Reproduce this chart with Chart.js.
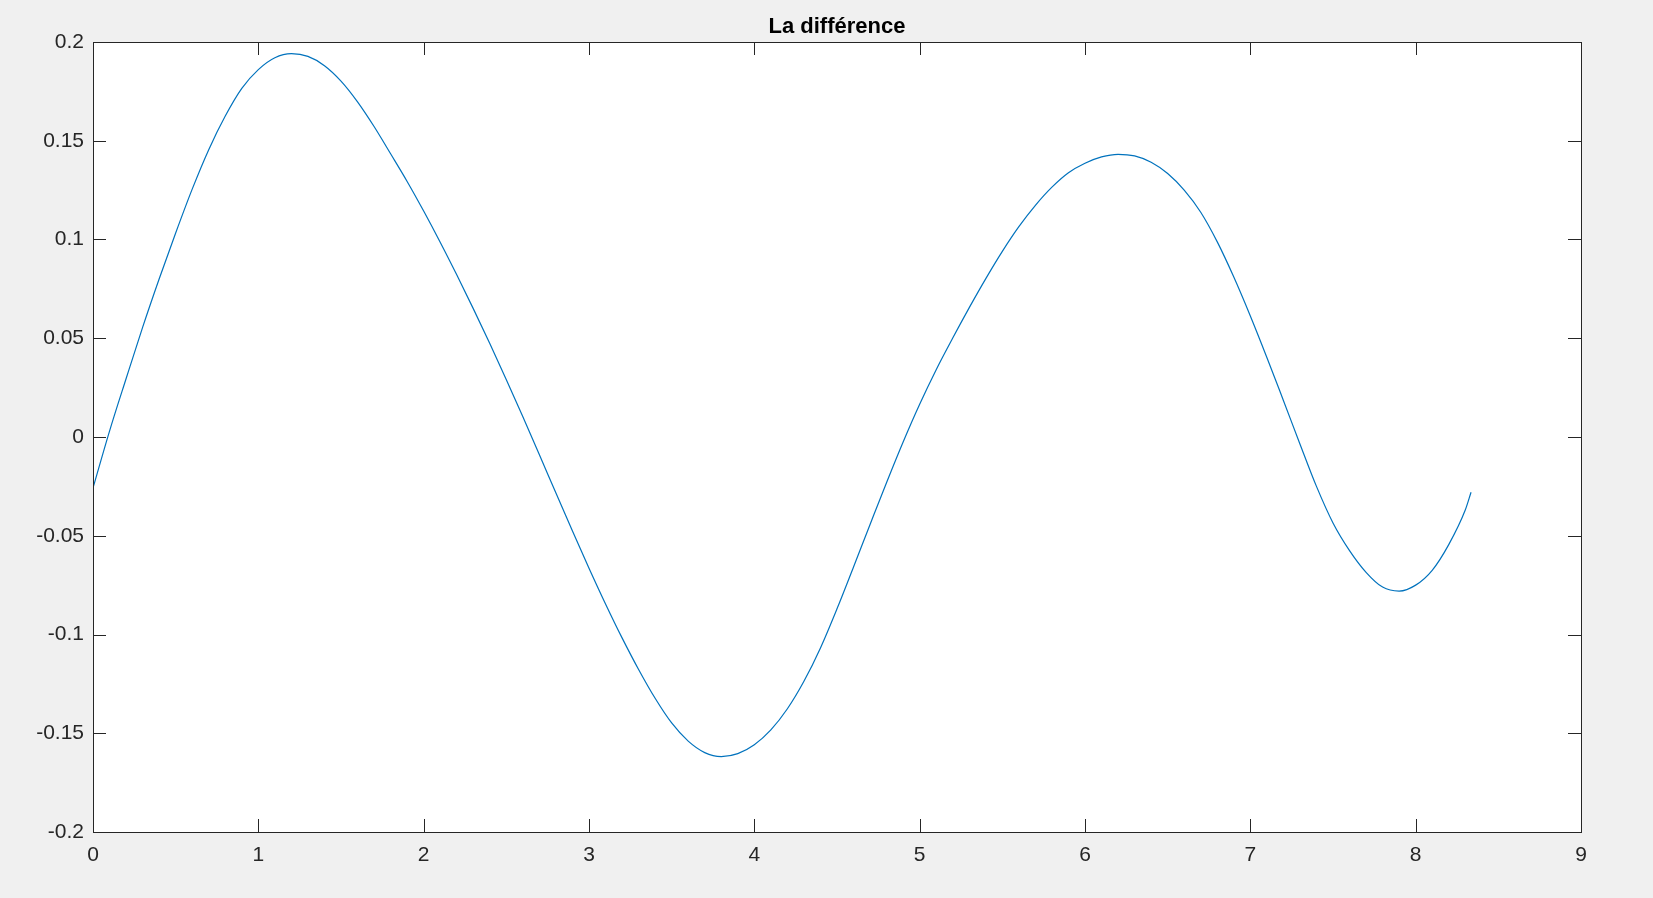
<!DOCTYPE html>
<html>
<head>
<meta charset="utf-8">
<script src="https://cdn.jsdelivr.net/npm/chart.js@4"></script>
<style>
  html, body { margin: 0; padding: 0; background: #f0f0f0; }
  #wrap { width: 1653px; height: 898px; }
</style>
</head>
<body>
<div id="wrap"><canvas id="diffChart" width="1653" height="898"></canvas></div>
<script>
// values, every 0.1 on x
var xs = [0, 0.1, 0.2, 0.3, 0.4, 0.5, 0.6, 0.7, 0.8, 0.9,
          1.0, 1.1, 1.2, 1.3, 1.4, 1.5, 1.6, 1.7, 1.8, 1.9,
          2.0, 2.1, 2.2, 2.3, 2.4, 2.5, 2.6, 2.7, 2.8, 2.9,
          3.0, 3.1, 3.2, 3.3, 3.4, 3.5, 3.6, 3.7, 3.8, 3.9,
          4.0, 4.1, 4.2, 4.3, 4.4, 4.5, 4.6, 4.7, 4.8, 4.9,
          5.0, 5.1, 5.2, 5.3, 5.4, 5.5, 5.6, 5.7, 5.8, 5.9,
          6.0, 6.1, 6.2, 6.3, 6.4, 6.5, 6.6, 6.7, 6.8, 6.9,
          7.0, 7.1, 7.2, 7.3, 7.4, 7.5, 7.6, 7.7, 7.8, 7.9,
          8.0, 8.1, 8.2, 8.3, 8.335];
var ys = [-0.0258, 0.003, 0.0295, 0.0555, 0.080, 0.1033, 0.1255, 0.1455, 0.1625, 0.1765,
          0.1860, 0.1920, 0.1941, 0.1927, 0.1880, 0.1802, 0.1697, 0.1572, 0.1434, 0.1294,
          0.1144, 0.0986, 0.0821, 0.0650, 0.0473, 0.0290, 0.0102, -0.0090, -0.0284, -0.0476,
          -0.0664, -0.0845, -0.1017, -0.1177, -0.1323, -0.1448, -0.1540, -0.1598, -0.1618, -0.1603,
          -0.1558, -0.1483, -0.1376, -0.1237, -0.1068, -0.0870, -0.0658, -0.0443, -0.0230, -0.0025,
          0.0166, 0.0341, 0.0501, 0.0655, 0.0802, 0.0940, 0.1065, 0.1173, 0.1265, 0.1338,
          0.1386, 0.1418, 0.1431, 0.1423, 0.1391, 0.1334, 0.1250, 0.1138, 0.0988, 0.0810,
          0.0613, 0.0403, 0.0185, -0.0035, -0.0250, -0.0435, -0.0575, -0.0685, -0.0760, -0.0780,
          -0.0750, -0.0675, -0.0545, -0.0370, -0.0280];
var xTicks = [0, 1, 2, 3, 4, 5, 6, 7, 8, 9];
var yTicks = [-0.2, -0.15, -0.1, -0.05, 0, 0.05, 0.1, 0.15, 0.2];
var titleText = "La différence";

var axisColor = "#262626";
var fontFamily = "'Liberation Sans', Arial, sans-serif";

// white axes background, box, inward ticks on all sides and the title
var matlabAxes = {
    id: "matlabAxes",
    beforeDraw: function(chart){
        var a = chart.chartArea, ctx = chart.ctx;
        ctx.save();
        ctx.fillStyle = "#ffffff";
        ctx.fillRect(a.left, a.top, a.right - a.left, a.bottom - a.top);
        ctx.restore();
    },
    afterDraw: function(chart){
        var a = chart.chartArea, ctx = chart.ctx;
        var sx = chart.scales.x, sy = chart.scales.y;
        var tl = 13;
        ctx.save();
        ctx.strokeStyle = axisColor;
        ctx.lineWidth = 1;
        ctx.beginPath();
        xTicks.forEach(function(v){
            var px = Math.round(sx.getPixelForValue(v)) + 0.5;
            ctx.moveTo(px, a.bottom); ctx.lineTo(px, a.bottom - tl);
            ctx.moveTo(px, a.top); ctx.lineTo(px, a.top + tl);
        });
        yTicks.forEach(function(v){
            var py = Math.round(sy.getPixelForValue(v)) + 0.5;
            ctx.moveTo(a.left, py); ctx.lineTo(a.left + tl, py);
            ctx.moveTo(a.right, py); ctx.lineTo(a.right - tl, py);
        });
        ctx.stroke();
        ctx.strokeRect(Math.round(a.left) + 0.5, Math.round(a.top) + 0.5, Math.round(a.right - a.left), Math.round(a.bottom - a.top));
        ctx.fillStyle = "#000000";
        ctx.font = "bold 22px " + fontFamily;
        ctx.textAlign = "center";
        ctx.textBaseline = "alphabetic";
        ctx.fillText(titleText, (a.left + a.right) / 2, 33);
        ctx.restore();
    }
};

var points = xs.map(function(x, i){ return {x: x, y: ys[i]}; });

new Chart(document.getElementById("diffChart"), {
    type: "line",
    data: {
        datasets: [{
            data: points,
            borderColor: "#0072BD",
            borderWidth: 1.2,
            pointRadius: 0,
            fill: false,
            cubicInterpolationMode: "monotone"
        }]
    },
    options: {
        responsive: false,
        animation: false,
        layout: { padding: { left: 0, right: 72, top: 42, bottom: 0 } },
        plugins: { legend: { display: false }, tooltip: { enabled: false }, title: { display: false } },
        scales: {
            x: {
                type: "linear",
                min: 0, max: 9,
                afterFit: function(s){ s.height = 66; },
                afterBuildTicks: function(s){ s.ticks = xTicks.map(function(v){ return {value: v}; }); },
                grid: { display: false, drawTicks: false },
                border: { display: false },
                ticks: {
                    color: axisColor,
                    padding: 11,
                    maxRotation: 0,
                    font: { family: fontFamily, size: 21 },
                    callback: function(v){ return String(v); }
                }
            },
            y: {
                min: -0.2, max: 0.2,
                afterFit: function(s){ s.width = 93; },
                afterBuildTicks: function(s){ s.ticks = yTicks.map(function(v){ return {value: v}; }); },
                grid: { display: false, drawTicks: false },
                border: { display: false },
                ticks: {
                    color: axisColor,
                    padding: 9,
                    font: { family: fontFamily, size: 21 },
                    callback: function(v){ return String(Math.round(v * 100) / 100); }
                }
            }
        }
    },
    plugins: [matlabAxes]
});
</script>
</body>
</html>
